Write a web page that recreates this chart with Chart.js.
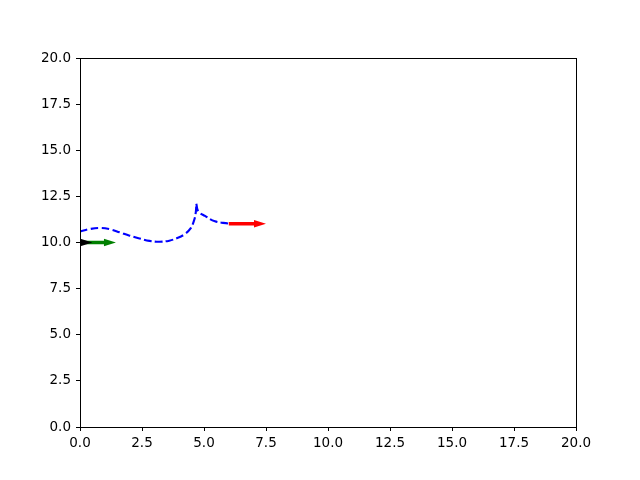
<!DOCTYPE html>
<html>
<head>
<meta charset="utf-8">
<script src="https://cdn.jsdelivr.net/npm/chart.js@4/dist/chart.umd.min.js"></script>
<style>
html,body{margin:0;padding:0;background:#fff;}
#wrap{width:640px;height:480px;}
</style>
</head>
<body>
<div id="wrap"><canvas id="c" width="640" height="480"></canvas></div>
<script>
// Trajectory (blue dashed), split at the cusp
const pathAX = [0, 0.4, 0.8, 1.2, 1.6, 2.0, 2.4, 2.8, 3.2, 3.6, 3.9, 4.2, 4.45, 4.6, 4.67, 4.69];
const pathAY = [10.59, 10.73, 10.79, 10.72, 10.55, 10.37, 10.22, 10.09, 10.04, 10.10, 10.23, 10.43, 10.75, 11.2, 11.65, 12.1];
const pathBX = [4.69, 4.77, 5.04, 5.44, 5.97, 6.0];
const pathBY = [12.1, 11.69, 11.44, 11.15, 11.03, 11.02];

// Arrows: start x, start y, dx, dy, colour
const arrowX = [0, 0, 6.0];
const arrowY = [10.0, 10.0, 11.02];
const arrowDX = [1.45, 0.5, 1.5];
const arrowDY = [0, 0, 0];
const arrowColors = ['#008000', '#000000', '#ff0000'];

// Axis ticks
const tickValues = [0, 2.5, 5, 7.5, 10, 12.5, 15, 17.5, 20];

const toPts = (xs, ys) => xs.map((x, i) => ({x: x, y: ys[i]}));

const arrowPlugin = {
  id: 'arrows',
  afterDatasetsDraw(chart) {
    const ctx = chart.ctx;
    const xs = chart.scales.x, ys = chart.scales.y;
    const ca = chart.chartArea;
    ctx.save();
    ctx.beginPath();
    ctx.rect(ca.left, ca.top, ca.right - ca.left, ca.bottom - ca.top);
    ctx.clip();
    for (let i = 0; i < arrowX.length; i++) {
      const x0 = xs.getPixelForValue(arrowX[i]);
      const y0 = ys.getPixelForValue(arrowY[i]);
      const x1 = xs.getPixelForValue(arrowX[i] + arrowDX[i]);
      const y1 = ys.getPixelForValue(arrowY[i] + arrowDY[i]);
      const len = Math.hypot(x1 - x0, y1 - y0);
      const ux = (x1 - x0) / len, uy = (y1 - y0) / len;
      const nx = -uy, ny = ux;
      const bw = 1.8, hw = 3.8, hl = 12;
      const hb = Math.max(len - hl, 0);
      const bx = x0 + ux * hb, by = y0 + uy * hb;
      ctx.beginPath();
      ctx.moveTo(x0 + nx * bw, y0 + ny * bw);
      ctx.lineTo(bx + nx * bw, by + ny * bw);
      ctx.lineTo(bx + nx * hw, by + ny * hw);
      ctx.lineTo(x1, y1);
      ctx.lineTo(bx - nx * hw, by - ny * hw);
      ctx.lineTo(bx - nx * bw, by - ny * bw);
      ctx.lineTo(x0 - nx * bw, y0 - ny * bw);
      ctx.closePath();
      ctx.fillStyle = arrowColors[i];
      ctx.fill();
    }
    ctx.restore();
    // frame
    ctx.save();
    ctx.strokeStyle = '#000';
    ctx.lineWidth = 1;
    ctx.strokeRect(Math.round(ca.left) + 0.5, Math.round(ca.top) + 0.5,
      Math.round(ca.right - ca.left), Math.round(ca.bottom - ca.top));
    ctx.restore();
  }
};

const lineStyle = {
  borderColor: '#0000ff',
  borderWidth: 2.1,
  borderDash: [7.7, 3.3],
  pointRadius: 0,
  showLine: true,
  fill: false,
  tension: 0.4
};

new Chart(document.getElementById('c'), {
  type: 'scatter',
  data: {
    datasets: [
      Object.assign({label: 'path1', data: toPts(pathAX, pathAY)}, lineStyle),
      Object.assign({label: 'path2', data: toPts(pathBX, pathBY)}, lineStyle)
    ]
  },
  options: {
    responsive: false,
    animation: false,
    devicePixelRatio: 1,
    layout: {padding: {top: 58, right: 64, left: 0, bottom: 0}},
    plugins: {legend: {display: false}, tooltip: {enabled: false}},
    scales: {
      x: {
        type: 'linear', min: 0, max: 20,
        afterBuildTicks(s) { s.ticks = tickValues.map(v => ({value: v})); },
        afterFit(s) { s.height = 53; },
        grid: {display: true, drawOnChartArea: false, drawTicks: true, tickLength: 4, color: '#000', tickColor: '#000'},
        border: {display: true, color: '#000'},
        ticks: {color: '#000', padding: 4, font: {family: 'DejaVu Sans', size: 13.5}, maxRotation: 0,
          callback: v => v.toFixed(1)}
      },
      y: {
        type: 'linear', min: 0, max: 20,
        afterBuildTicks(s) { s.ticks = tickValues.map(v => ({value: v})); },
        afterFit(s) { s.width = 80; },
        grid: {display: true, drawOnChartArea: false, drawTicks: true, tickLength: 4, color: '#000', tickColor: '#000'},
        border: {display: true, color: '#000'},
        ticks: {color: '#000', padding: 5, font: {family: 'DejaVu Sans', size: 13.5},
          callback: v => v.toFixed(1)}
      }
    }
  },
  plugins: [arrowPlugin]
});
</script>
</body>
</html>
